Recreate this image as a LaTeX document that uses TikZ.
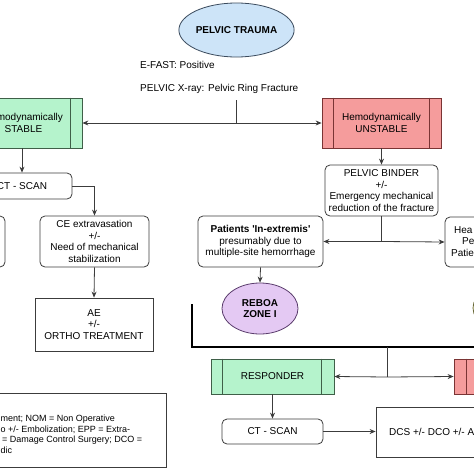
\documentclass[tikz,border=0pt]{standalone}
\usepackage{fontspec}
\setmainfont{Liberation Sans}
\usetikzlibrary{arrows.meta,shapes.geometric}
\definecolor{gfill}{HTML}{B5F3CC}
\definecolor{gdraw}{HTML}{3F5F48}
\definecolor{rfill}{HTML}{F59C9C}
\definecolor{rdraw}{HTML}{7A3434}
\definecolor{bfill}{HTML}{CDE4F8}
\definecolor{bdraw}{HTML}{3A4A5C}
\definecolor{pfill}{HTML}{E4C9F3}
\definecolor{pdraw}{HTML}{5A3C6C}
\definecolor{yfill}{HTML}{F3F0C4}
\definecolor{ydraw}{HTML}{6A6A3A}
\definecolor{lc}{HTML}{3C3C3C}
\begin{document}
\begin{tikzpicture}[x=1pt,y=-1pt,
  every node/.style={font=\fontsize{10}{11.6}\selectfont, text=black, inner sep=0pt},
  rbox/.style={draw=lc, line width=0.8pt, rounded corners=5pt, fill=white, align=center},
  sbox/.style={draw=lc, line width=0.8pt, fill=white, align=center},
  gbox/.style={draw=gdraw, line width=0.8pt, fill=gfill, align=center},
  redbox/.style={draw=rdraw, line width=0.8pt, fill=rfill, align=center},
  gline/.style={draw=gdraw, line width=0.8pt},
  rline/.style={draw=rdraw, line width=0.8pt},
  conn/.style={draw=lc, line width=0.8pt},
  arr/.style={draw=lc, line width=0.8pt, -{Stealth[length=6pt,width=5pt]}},
  heavy/.style={draw=black, line width=1.8pt},
  legendtext/.style={font=\fontsize{9}{10.5}\selectfont, align=left},
]
\useasboundingbox (0,0) rectangle (474,474);
\clip (0,0) rectangle (474,474);

% top
\node[ellipse, draw=bdraw, line width=0.8pt, fill=bfill, minimum width=103, minimum height=54,
      font=\fontsize{10}{12}\selectfont\bfseries] (trauma) at (236.5,30) {PELVIC TRAUMA};
\node[anchor=west, font=\fontsize{10}{12}\selectfont] (efast) at (140,65) {E-FAST: Positive};
\node[anchor=west, font=\fontsize{10}{12}\selectfont] (xray) at (140,89) {PELVIC X-ray: Pelvic Ring Fracture};
\coordinate (j0) at (236.5,100);
\coordinate (j1) at (236.5,123);

% stable branch
\node[gbox, minimum width=117, minimum height=50] (stable) at (23.5,123) {Hemodynamically\\STABLE};
\draw[gline] ([xshift=12pt]stable.north west) -- ([xshift=12pt]stable.south west);
\draw[gline] ([xshift=-12pt]stable.north east) -- ([xshift=-12pt]stable.south east);
\node[rbox, minimum width=100, minimum height=26] (ctl) at (22,186) {CT - SCAN};
\node[rbox, minimum width=109, minimum height=51] (ce) at (94.5,241.5) {CE extravasation\\+/-\\Need of mechanical\\stabilization};
\node[rbox, minimum width=110, minimum height=51] (lp) at (-50,241.5) {};
\node[sbox, minimum width=118, minimum height=53] (ae) at (94,324.5) {AE\\+/-\\ORTHO TREATMENT};

% unstable branch
\node[redbox, minimum width=119, minimum height=50] (unstable) at (381.5,123) {Hemodynamically\\UNSTABLE};
\draw[rline] ([xshift=12pt]unstable.north west) -- ([xshift=12pt]unstable.south west);
\draw[rline] ([xshift=-12pt]unstable.north east) -- ([xshift=-12pt]unstable.south east);
\node[rbox, minimum width=113, minimum height=51] (binder) at (381.5,190.5) {PELVIC BINDER\\+/-\\Emergency mechanical\\reduction of the fracture};
\node[rbox, minimum width=125, minimum height=51] (patients) at (260.5,241.5)
  {{\bfseries Patients \textquotesingle In-extremis\textquotesingle}\\presumably due to\\multiple-site hemorrhage};
\node[rbox, minimum width=125, minimum height=50] (rp) at (507.5,242) {};
\node[anchor=west, align=left] (rptext) at (451,241.5) {\hspace{3pt}Hea\\\hspace{11pt}Pe\\Patie};
\node[ellipse, draw=pdraw, line width=0.8pt, fill=pfill, minimum width=76, minimum height=51,
      align=center, font=\fontsize{10}{11.6}\selectfont\bfseries] (reboa) at (260,308.5) {REBOA\\ZONE I};
\node[ellipse, draw=ydraw, line width=0.8pt, fill=yfill, minimum width=78, minimum height=51] (yell) at (512,308) {};

% lower block
\coordinate (t1) at (192,304);
\coordinate (t2) at (192,347);
\coordinate (t3) at (480,347);
\coordinate (j3) at (387,347);
\coordinate (j4) at (387,377);
\node[gbox, minimum width=123, minimum height=35] (resp) at (272.5,376.5) {RESPONDER};
\draw[gline] ([xshift=12pt]resp.north west) -- ([xshift=12pt]resp.south west);
\draw[gline] ([xshift=-13pt]resp.north east) -- ([xshift=-13pt]resp.south east);
\node[redbox, minimum width=123, minimum height=35] (nonresp) at (515.5,376.5) {};
\draw[rline] ([xshift=13pt]nonresp.north west) -- ([xshift=13pt]nonresp.south west);
\node[rbox, minimum width=101, minimum height=25] (ctr) at (272.5,431.5) {CT - SCAN};
\node[sbox, minimum width=160, minimum height=50] (dcs) at (456,432) {};
\node[anchor=west] (dcstext) at (389,432) {DCS +/- DCO +/- A};

% legend
\node[sbox, minimum width=266, minimum height=74] (legend) at (33,430) {};
\node[legendtext, anchor=north west] (legtext) at (0.5,415)
  {ment; NOM = Non Operative\\o +/- Embolization; EPP = Extra-\\\hspace{1.5pt}= Damage Control Surgery; DCO =\\dic};

% connectors
\draw[conn] (j0) -- (j1);
\draw[arr] (j1) -- (stable.east);
\draw[arr] (j1) -- (unstable.west);
\draw[arr] (ctl.north |- stable.south) -- (ctl.north);
\draw[arr] (ctl.east) -| (ce.north);
\draw[arr] (ce.south) -- (ae.north);
\draw[arr] (unstable.south) -- (binder.north);
\coordinate (j2) at (binder.south |- patients.east);
\draw[conn] (binder.south) -- (j2);
\draw[arr] (j2) -- (patients.east);
\draw[arr] (j2) -- (rp.west);
\draw[arr] (patients.south) -- (reboa.north);
\draw[heavy] (t1) -- (t2) -- (t3);
\draw[conn] (j3) -- (j4);
\draw[arr] (j4) -- (resp.east);
\draw[arr] (j4) -- (nonresp.west);
\draw[arr] (resp.south) -- (ctr.north);
\draw[arr] (ctr.east) -- (ctr.east -| dcs.west);
\end{tikzpicture}
\end{document}
